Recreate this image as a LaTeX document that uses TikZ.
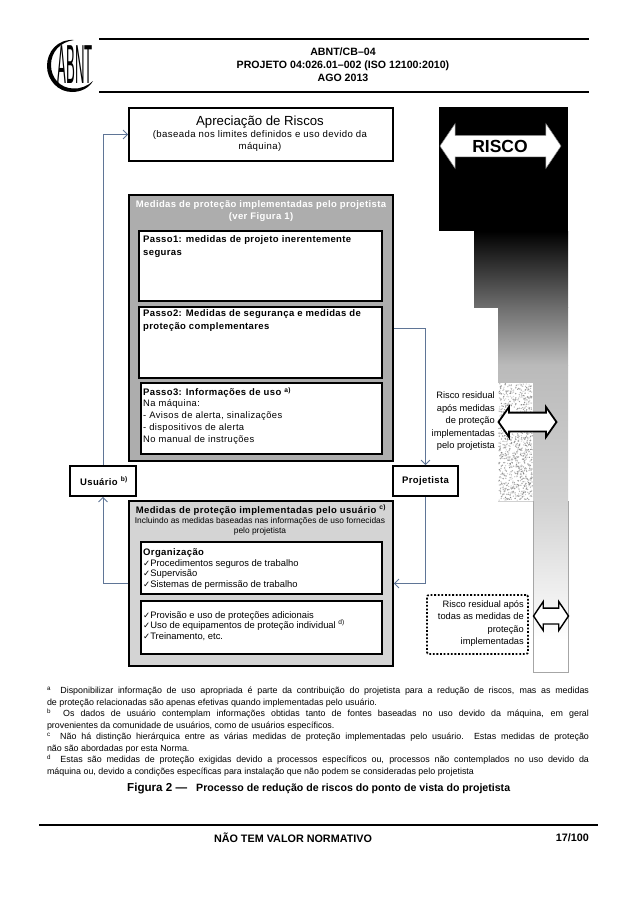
\documentclass[tikz,border=0pt]{standalone}
\usepackage{fontspec}
\setmainfont{Liberation Sans}
\newfontfamily\chkfont{DejaVu Sans}
\newfontfamily\widefont[LetterSpace=4]{Liberation Sans}
\usetikzlibrary{arrows.meta,shapes.arrows,shapes.geometric}
\definecolor{linkblue}{HTML}{5F7596}
\newcommand{\chk}{{\chkfont\fontsize{8.5}{8.5}\selectfont ✓}}
\tikzset{
  box/.style={rectangle, draw=black, line width=1.6pt, fill=white},
  title/.style={font=\widefont\bfseries\fontsize{9.5}{13}\selectfont, align=left, anchor=north west, inner sep=0pt},
  plain/.style={font=\fontsize{9.4}{10.6}\selectfont, align=left, anchor=north west, inner sep=0pt},
  riskl/.style={font=\fontsize{9.3}{12.4}\selectfont, align=right, anchor=north east, inner sep=0pt},
  head/.style={font=\bfseries\fontsize{10.6}{12.8}\selectfont, align=center, inner sep=0pt},
  riskarr/.style={double arrow, draw=black, fill=white, inner sep=0pt, text width=0pt},
  link/.style={draw=linkblue, line width=.9pt, -{Straight Barb[length=4.5pt,width=9pt]}},
  rule/.style={line width=1.1pt},
}
\begin{document}
\begin{tikzpicture}[x=1pt,y=-1pt]
  \useasboundingbox (0,0) rectangle (638,903);
  % page header
  \draw[rule] (99,39) -- (589,39);
  \draw[rule] (99,92) -- (589,92);
  \node[head] (cabec) at (343,65) {ABNT/CB--04\\PROJETO 04:026.01--002 (ISO 12100:2010)\\AGO 2013};
  % logo
  \fill (74,40) .. controls (57,39) and (47,52) .. (47,66) .. controls (47,80) and (58,92) .. (72,92) .. controls (81,92) and (89,88) .. (93,81) .. controls (88,86) and (80,89) .. (73,88.5) .. controls (60,88) and (51,78) .. (51,65) .. controls (51,52) and (60,42) .. (74,40);
  \node[font=\fontsize{22}{22}\selectfont, xscale=.6, yscale=2.5, transform shape, inner sep=0pt] (logo) at (75,65) {ABNT};

  % risk column
  \fill[black] (439,107) rectangle (568,231);
  \path[top color=black, bottom color=black!57] (474,231) rectangle (568,307);
  \path[top color=black!57, bottom color=black!27] (498,307) rectangle (568,365);
  \path[top color=black!27, bottom color=black!18] (498,365) rectangle (568,501);
  \path[top color=black!18, bottom color=white] (533,501) rectangle (568,640);
  \draw[black!35, line width=.5pt] (533,501) -- (533,672) -- (568,672) -- (568,501);
  \fill[white] (498,383) rectangle (533,501);
  \pgfmathsetseed{41}
  \foreach \i in {1,...,950}{
    \pgfmathsetmacro{\dotx}{498.7+33.6*rnd}
    \pgfmathsetmacro{\doty}{383.7+116.6*rnd}
    \pgfmathsetmacro{\dotg}{12+38*rnd}
    \fill[black!\dotg] (\dotx,\doty) circle (.7pt);
  }
  \node[riskarr, minimum height=121pt, text height=21pt, text depth=0pt, double arrow head extend=11.5pt, double arrow tip angle=112, line width=.5pt, draw=black!50] (riscoarr) at (500.5,146) {};
  \node[font=\bfseries\fontsize{17.5}{17.5}\selectfont, inner sep=0pt] (risco) at (500,146) {RISCO};
  \node[riskarr, minimum height=58pt, text height=17pt, text depth=0pt, double arrow head extend=5.5pt, double arrow tip angle=110, line width=1.8pt] (residarr) at (527.5,422) {};
  \node[riskarr, minimum height=35pt, text height=14.5pt, text depth=0pt, double arrow head extend=6.5pt, double arrow tip angle=112, line width=1.4pt] (todasarr) at (551,616) {};
  \node[riskl] (residual) at (495,392) {Risco residual\\após medidas\\de proteção\\implementadas\\pelo projetista};
  \node[rectangle, rounded corners=2pt, draw=black, line width=1.8pt, dash pattern=on 1.8pt off 1.8pt, minimum width=101pt, minimum height=59pt] (todasbox) at (477.5,624.5) {};
  \node[riskl] (todas) at (524,600.5) {Risco residual após\\todas as medidas de\\proteção\\implementadas};

  % boxes
  \node[box, minimum width=264pt, minimum height=53pt] (riscos) at (261,134.5) {};
  \node[font=\fontsize{13.2}{15}\selectfont, inner sep=0pt] (riscost) at (260,122) {Apreciação de Riscos};
  \node[font=\widefont\fontsize{9.6}{12.6}\selectfont, align=center, inner sep=0pt] (riscoss) at (260,141) {(baseada nos limites definidos e uso devido da\\máquina)};

  \node[box, fill=black!32, minimum width=264pt, minimum height=266pt] (medproj) at (261,328) {};
  \node[font=\widefont\bfseries\fontsize{9.5}{12.3}\selectfont, text=white, align=center, inner sep=0pt] (medprojt) at (261,211) {Medidas de proteção implementadas pelo projetista\\(ver Figura 1)};

  \node[box, minimum width=243pt, minimum height=70pt] (passoa) at (260.5,266) {};
  \node[title] (passoat) at (143,235) {Passo1: medidas de projeto inerentemente\\seguras};
  \node[box, minimum width=243pt, minimum height=71pt] (passob) at (260.5,342.5) {};
  \node[title] (passobt) at (143,309.5) {Passo2: Medidas de segurança e medidas de\\proteção complementares};
  \node[box, minimum width=241pt, minimum height=71pt] (passoc) at (261.5,418.5) {};
  \node[title] (passoct) at (143,387) {Passo3: Informações de uso \textsuperscript{a)}};
  \node[plain, font=\widefont\fontsize{9.4}{12}\selectfont] (passocl) at (143,399) {Na máquina:\\- Avisos de alerta, sinalizações\\- dispositivos de alerta\\No manual de instruções};

  \node[box, minimum width=66pt, minimum height=30pt] (usuario) at (103,481) {};
  \node[title, anchor=center] (usuariot) at (104,481) {Usuário \textsuperscript{b)}};
  \node[box, minimum width=65pt, minimum height=30pt] (projetista) at (425.5,481) {};
  \node[title, anchor=center] (projetistat) at (425.5,481) {Projetista};

  \node[box, fill=black!17, minimum width=264pt, minimum height=165pt] (medusr) at (261,583.5) {};
  \node[title, anchor=center] (medusrt) at (261,510) {Medidas de proteção implementadas pelo usuário \textsuperscript{c)}};
  \node[font=\fontsize{8.4}{10.2}\selectfont, align=center, inner sep=0pt] (medusrs) at (260,526) {Incluindo as medidas baseadas nas informações de uso fornecidas\\pelo projetista};

  \node[box, minimum width=241pt, minimum height=52pt] (org) at (261.5,568) {};
  \node[title] (orgt) at (143,548) {Organização};
  \node[plain] (orgl) at (143,559) {\chk Procedimentos seguros de trabalho\\\chk Supervisão\\\chk Sistemas de permissão de trabalho};
  \node[box, minimum width=241pt, minimum height=53pt] (adic) at (261.5,627.5) {};
  \node[plain] (adicl) at (143,611) {\chk Provisão e uso de proteções adicionais\\\chk Uso de equipamentos de proteção individual \textsuperscript{d)}\\\chk Treinamento, etc.};

  % connectors
  \draw[link] (usuario.north) |- (riscos.west);
  \draw[link] (medproj.east) -| (projetista.north);
  \draw[link] (projetista.south) |- (medusr.east);
  \draw[link] (medusr.west) -| (usuario.south);

  % notes and caption
  \node[font=\fontsize{8.9}{11.5}\selectfont, text width=542pt, align=justify, anchor=north, inner sep=0pt] (notas) at (318,686.5) {\textsuperscript{a}\ \ Disponibilizar informação de uso apropriada é parte da contribuição do projetista para a redução de riscos, mas as medidas\linebreak de proteção relacionadas são apenas efetivas quando implementadas pelo usuário.\\
  \textsuperscript{b}\ \ Os dados de usuário contemplam informações obtidas tanto de fontes baseadas no uso devido da máquina, em geral\linebreak provenientes da comunidade de usuários, como de usuários específicos.\\
  \textsuperscript{c}\ \ Não há distinção hierárquica entre as várias medidas de proteção implementadas pelo usuário. Estas medidas de proteção\linebreak não são abordadas por esta Norma.\\
  \textsuperscript{d}\ \ Estas são medidas de proteção exigidas devido a processos específicos ou, processos não contemplados no uso devido da\linebreak máquina ou, devido a condições específicas para instalação que não podem se consideradas pelo projetista};
  \node[font=\bfseries\fontsize{11.6}{12}\selectfont, anchor=west, inner sep=0pt] (figura) at (127,789) {Figura 2 ---};
  \node[font=\bfseries\fontsize{10.6}{12}\selectfont, anchor=west, inner sep=0pt] (legenda) at (196,789) {Processo de redução de riscos do ponto de vista do projetista};

  % page footer
  \draw[rule] (39,825) -- (598,825);
  \node[font=\bfseries\fontsize{10.8}{12}\selectfont, inner sep=0pt] (rodape) at (293,838) {NÃO TEM VALOR NORMATIVO};
  \node[font=\bfseries\fontsize{10.8}{12}\selectfont, anchor=east, inner sep=0pt] (pagina) at (589,838) {17/100};
\end{tikzpicture}
\end{document}
